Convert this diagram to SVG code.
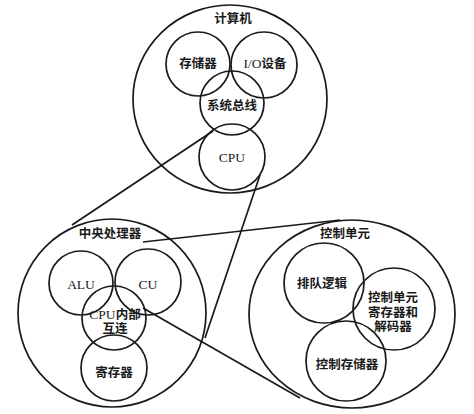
<svg xmlns="http://www.w3.org/2000/svg" width="474" height="414" viewBox="0 0 474 414">
<style>
.c{fill:none;stroke:#1a1a1a;stroke-width:1.7}
.l{stroke:#1a1a1a;stroke-width:1.7;fill:none}
text{font-family:"Liberation Serif","Noto Sans CJK SC",serif;font-size:12.5px;font-weight:bold;fill:#1a1a1a;text-anchor:middle}
.n{font-weight:normal;font-size:13.5px}
</style>
<rect width="474" height="414" fill="#ffffff"/>
<g id="connectors">
<line class="l" x1="213" y1="131" x2="72" y2="225"/>
<line class="l" x1="260" y1="175" x2="205" y2="338"/>
<line class="l" x1="143" y1="242" x2="340" y2="220"/>
<line class="l" x1="143" y1="308" x2="300" y2="398"/>
</g>
<g id="computer">
<ellipse class="c" cx="230" cy="99" rx="97" ry="94"/>
<text x="233" y="22.5">计算机</text>
</g>
<g id="memory"><circle class="c" cx="198" cy="64" r="32"/><text x="198" y="67.5">存储器</text></g>
<g id="io"><circle class="c" cx="264" cy="65" r="33"/><text x="265" y="67.5"><tspan class="n">I/O</tspan>设备</text></g>
<g id="bus"><circle class="c" cx="232" cy="103" r="32"/><text x="232" y="109.5">系统总线</text></g>
<g id="cpu"><circle class="c" cx="232" cy="157" r="33"/><text class="n" x="232" y="161.5">CPU</text></g>
<g id="processor">
<circle class="c" cx="112" cy="313" r="94"/>
<text x="110" y="237.5">中央处理器</text>
</g>
<g id="alu"><circle class="c" cx="81" cy="283" r="32"/><text class="n" x="81" y="288.5">ALU</text></g>
<g id="cu"><circle class="c" cx="148" cy="282" r="33"/><text class="n" x="148" y="288.5">CU</text></g>
<g id="interconnect"><circle class="c" cx="114" cy="318" r="32"/><text x="115" y="318.5"><tspan class="n">CPU</tspan>内部</text><text x="115" y="332.5">互连</text></g>
<g id="registers"><circle class="c" cx="114" cy="368" r="33"/><text x="114" y="376.5">寄存器</text></g>
<g id="controlunit">
<ellipse class="c" cx="352" cy="314" rx="103" ry="94"/>
<text x="345" y="237.5">控制单元</text>
</g>
<g id="sequencing"><circle class="c" cx="324" cy="283" r="40"/><text x="322" y="287.5">排队逻辑</text></g>
<g id="curegs"><circle class="c" cx="394" cy="309" r="41"/><text x="393" y="301.5">控制单元</text><text x="393" y="316.5">寄存器和</text><text x="393" y="330.5">解码器</text></g>
<g id="controlmem"><circle class="c" cx="346" cy="361" r="40"/><text x="347" y="368.5">控制存储器</text></g>
</svg>
